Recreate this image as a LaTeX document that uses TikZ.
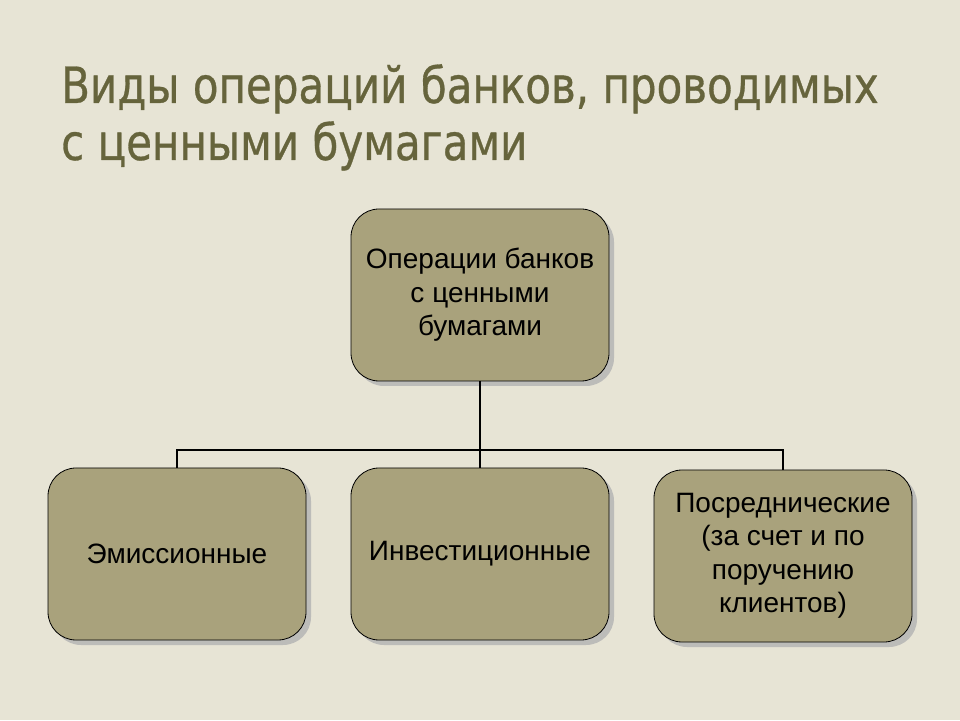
\documentclass[tikz,border=0pt]{standalone}
\usepackage{fontspec}
\setmainfont{Liberation Sans}
\newfontfamily\titlefont[FakeStretch=0.84,FakeBold=0.6]{DejaVu Sans}
\usetikzlibrary{shadows}
\definecolor{slidebg}{HTML}{E7E4D5}
\definecolor{boxfill}{HTML}{A9A27C}
\definecolor{titleolive}{HTML}{66643C}
\tikzset{
  box/.style={
    rectangle,
    rounded corners=28pt,
    minimum width=258pt,
    minimum height=172pt,
    inner sep=0pt,
    align=center,
    font=\fontsize{28}{33.5}\selectfont,
    fill=boxfill,
    draw=black,
    line width=0.8pt,
    drop shadow={shadow xshift=5pt,shadow yshift=-5pt,fill=black!30,opacity=0.8}
  },
  heading/.style={
    anchor=base west,
    inner sep=0pt,
    text=titleolive,
    font=\titlefont\fontsize{50}{60}\selectfont
  },
  link/.style={draw=black,line width=2pt}
}

\begin{document}
\begin{tikzpicture}[x=1pt,y=1pt]
    \fill[slidebg] (0,0) rectangle (960,720);
    \useasboundingbox (0,0) rectangle (960,720);
    % title
    \node[heading] (title1) at (61,617) {Виды операций банков, проводимых};
    \node[heading] (title2) at (61,560) {с ценными бумагами};
    % boxes
    \node[box] (root) at (480,425) {Операции банков\\с ценными\\бумагами};
    \node[box] (emis) at (177,166) {Эмиссионные};
    \node[box] (invest) at (480,166) {Инвестиционные};
    \node[box] (broker) at (783,164) {Посреднические\\(за счет и по\\поручению\\клиентов)};
    % tree
    \coordinate (fork) at (480,270);
    \draw[link] (root.south) -- (fork);
    \draw[link] (emis.north) |- (fork) -| (broker.north);
    \draw[link] (fork) -- (invest.north);
\end{tikzpicture}
\end{document}
